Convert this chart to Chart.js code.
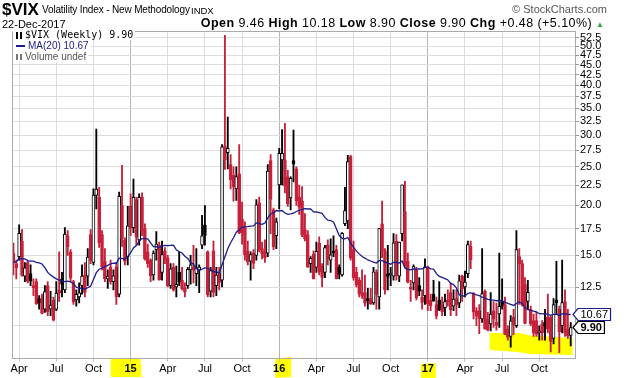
<!DOCTYPE html>
<html>
<head>
<meta charset="utf-8">
<script src="https://cdn.jsdelivr.net/npm/chart.js@4"></script>
<style>
body { margin: 0; background: #fff; }
#wrap { position: relative; width: 625px; height: 378px; font-family: 'Liberation Sans', Arial, sans-serif; color: #000; }
#wrap canvas { position: absolute; left: 0; top: 0; }
.t { position: absolute; white-space: nowrap; line-height: 1; }
.lg { position: absolute; left: 13px; height: 11px; line-height: 11px; font-size: 10px; background: #fff; padding: 0 2px 0 2px; white-space: nowrap; }
.ic { display: inline-block; vertical-align: middle; margin-right: 3px; }
.ic-c { width: 2px; height: 7px; border-left: 2px solid #000; border-right: 2px solid #000; margin-left: 1px; }
.ic-ma { width: 9px; height: 2px; background: #1c1c8c; margin-left: 1px; }
.ic-v { width: 2px; height: 6px; border-left: 2px solid #777; border-right: 2px solid #777; margin-left: 1px; }
.up { color: #3a3; font-size: 8px; letter-spacing: 0; }
</style>
</head>
<body>
<div id="wrap">
  <canvas id="vixChart" width="625" height="378"></canvas>
  <div class="t" style="left:2px;top:1px;font-size:17px;font-weight:bold;">$VIX</div>
  <div class="t" style="left:42px;top:5px;font-size:10px;letter-spacing:-0.15px;">Volatility Index - New Methodology</div>
  <div class="t" style="left:191px;top:6px;font-size:9.5px;">INDX</div>
  <div class="t" style="right:18px;top:4px;font-size:11px;color:#555;">&copy; StockCharts.com</div>
  <div class="t" style="left:2px;top:19px;font-size:11px;">22-Dec-2017</div>
  <div class="t" id="ohlc" style="right:21px;top:17px;font-size:12.5px;letter-spacing:0.45px;"></div>
  <div class="lg" style="top:29px;font-family:'DejaVu Sans Mono',monospace;"><span class="ic ic-c"></span><span id="lgPrice"></span></div>
  <div class="lg" style="top:40px;color:#1c1c8c;"><span class="ic ic-ma"></span><span id="lgMa"></span></div>
  <div class="lg" style="top:50.5px;color:#555;"><span class="ic ic-v"></span>Volume undef</div>
</div>
<script>
// semaines (lundi) a partir du 24 mars 2014
const firstWeek = [2014, 2, 24];

const opens = [
  15.2, 14.3, 14.9, 16.3, 13.3, 14.4, 13.5, 12.6, 12.9, 11.7, 11.7, 11.0, 12.6, 11.0, 11.6, 11.0, 12.3, 13.1, 12.3, 16.8,
  15.3, 12.9, 11.6, 11.8, 12.6, 13.4, 13.3, 16.9, 14.4, 21.2, 21.0, 16.9, 14.5, 13.1, 14.0, 12.9, 14.0, 12.0, 20.0, 16.4,
  14.9, 19.9, 17.6, 20.7, 16.4, 21.0, 17.5, 15.3, 14.6, 13.4, 15.5, 15.9, 13.6, 15.4, 14.8, 12.6, 14.0, 12.5, 13.6, 13.0,
  12.4, 12.6, 13.8, 14.0, 13.5, 13.8, 15.9, 17.9, 15.3, 12.2, 15.4, 12.6, 13.5, 13.0, 28.2, 27.1, 25.3, 23.8, 22.0, 24.0,
  18.5, 17.6, 15.4, 14.5, 15.2, 15.0, 20.3, 15.6, 15.3, 15.2, 25.9, 19.5, 16.8, 22.5, 26.0, 26.0, 23.6, 20.9, 25.9, 24.7,
  21.0, 20.5, 17.4, 16.9, 14.3, 15.1, 14.0, 16.1, 14.1, 13.6, 15.9, 14.6, 15.3, 15.5, 14.0, 13.4, 18.0, 18.3, 26.5, 15.5,
  13.6, 13.0, 12.1, 12.1, 11.7, 11.7, 11.4, 13.6, 11.8, 18.0, 15.4, 13.4, 13.4, 13.3, 16.3, 13.3, 17.0, 19.3, 14.5, 12.5,
  12.8, 13.8, 12.6, 11.8, 11.9, 14.0, 11.6, 12.0, 11.3, 11.6, 11.3, 11.1, 11.6, 12.1, 11.2, 11.7, 11.4, 13.3, 12.5, 13.5,
  15.8, 12.0, 10.9, 10.9, 10.4, 12.2, 10.4, 10.1, 10.9, 10.2, 10.7, 11.5, 11.3, 9.8, 9.4, 10.5, 10.0, 14.9, 14.3, 12.7,
  11.5, 11.0, 10.3, 10.3, 9.6, 10.1, 10.2, 10.5, 10.5, 9.3, 11.6, 11.0, 10.0, 11.5, 9.8, 9.46
];
const highs = [
  16.1, 14.6, 17.9, 17.4, 14.4, 14.5, 14.2, 13.1, 13.1, 11.9, 12.0, 12.6, 12.9, 12.2, 11.8, 12.9, 15.3, 13.6, 17.6, 17.3,
  15.5, 13.0, 12.3, 12.8, 14.2, 14.4, 15.6, 17.4, 22.0, 31.06, 22.2, 17.3, 15.6, 13.8, 14.6, 13.8, 14.4, 21.6, 25.2, 16.6,
  19.9, 21.4, 23.3, 21.0, 21.4, 21.5, 18.0, 16.0, 14.7, 15.4, 17.2, 16.2, 16.3, 15.7, 15.0, 14.3, 14.3, 14.1, 15.3, 14.0,
  12.8, 14.0, 15.0, 15.9, 15.6, 14.2, 18.9, 20.0, 15.4, 14.0, 16.3, 14.0, 14.0, 28.4, 53.29, 33.3, 26.8, 25.0, 25.0, 28.4,
  20.4, 18.2, 16.3, 15.3, 15.5, 20.7, 21.0, 16.2, 16.4, 25.3, 26.8, 19.7, 18.6, 27.8, 30.95, 32.09, 24.5, 23.6, 30.9, 25.0,
  22.5, 22.3, 19.1, 17.3, 14.9, 15.4, 16.2, 16.7, 14.3, 15.9, 16.4, 16.5, 16.8, 15.9, 14.2, 17.1, 22.2, 26.7, 26.7, 16.3,
  14.0, 13.2, 13.8, 13.4, 12.4, 12.4, 14.0, 13.8, 17.5, 20.5, 15.6, 15.9, 14.0, 17.0, 16.9, 16.2, 22.5, 23.0, 15.2, 13.0,
  14.2, 14.0, 13.2, 12.3, 14.7, 14.1, 12.0, 13.0, 11.8, 12.9, 11.8, 12.0, 12.3, 12.8, 12.3, 12.3, 13.4, 13.4, 13.7, 16.3,
  16.3, 12.1, 11.1, 11.3, 15.6, 12.3, 10.8, 12.1, 11.5, 11.4, 15.2, 13.1, 11.8, 10.0, 10.6, 11.0, 17.3, 15.6, 14.6, 13.2,
  13.0, 11.2, 10.7, 10.8, 10.0, 10.3, 11.0, 12.0, 10.6, 11.7, 14.5, 11.2, 14.6, 12.3, 11.0, 10.18
];
const lows = [
  13.4, 13.1, 14.6, 13.3, 12.9, 12.8, 12.6, 11.9, 11.3, 11.0, 10.7, 10.8, 10.6, 10.6, 10.28, 10.9, 11.5, 11.8, 12.1, 15.0,
  12.9, 11.3, 11.2, 11.4, 12.0, 11.8, 12.6, 14.3, 14.2, 19.6, 15.7, 13.8, 12.9, 12.4, 12.7, 12.3, 11.3, 11.8, 15.8, 14.2,
  14.2, 16.8, 17.1, 15.9, 15.9, 16.8, 14.6, 14.0, 12.9, 13.0, 14.6, 13.0, 13.0, 14.3, 12.5, 12.4, 12.2, 11.8, 12.6, 12.3,
  11.8, 12.4, 12.7, 12.8, 12.6, 12.1, 15.6, 15.9, 11.8, 11.8, 11.8, 11.9, 12.3, 12.5, 24.6, 24.7, 22.0, 20.5, 20.6, 17.0,
  16.0, 14.6, 14.2, 13.0, 13.9, 14.6, 15.3, 14.7, 14.4, 14.9, 17.0, 15.5, 15.6, 19.6, 22.5, 21.5, 19.9, 19.5, 22.9, 20.0,
  19.0, 16.7, 16.3, 14.0, 13.6, 13.1, 13.6, 13.4, 12.5, 13.2, 14.2, 13.6, 14.9, 13.1, 13.1, 13.3, 17.8, 17.5, 14.6, 13.0,
  12.5, 11.8, 11.7, 11.2, 11.0, 11.3, 11.3, 11.0, 11.0, 14.8, 12.0, 12.3, 12.6, 13.0, 13.0, 12.9, 16.3, 14.0, 12.8, 11.5,
  12.3, 11.6, 11.9, 11.0, 11.3, 10.9, 10.9, 11.5, 10.4, 10.9, 10.6, 10.6, 11.2, 10.6, 10.9, 10.6, 11.1, 11.5, 11.8, 13.2,
  13.9, 10.4, 10.0, 9.56, 10.2, 9.8, 9.7, 9.7, 9.9, 9.75, 9.9, 11.0, 9.5, 9.2, 8.84, 9.5, 9.9, 11.3, 11.2, 10.1,
  11.0, 10.0, 9.4, 9.4, 9.2, 9.2, 9.2, 9.6, 8.6, 9.0, 10.7, 8.56, 9.6, 9.4, 9.3, 8.90
];
const closes = [
  14.41, 13.96, 17.03, 13.36, 13.97, 12.91, 12.92, 12.44, 11.36, 11.40, 10.73, 12.18, 10.85, 11.26, 10.32, 12.08, 12.06, 12.69, 16.95, 15.77,
  13.15, 11.47, 11.98, 12.09, 13.31, 12.11, 14.85, 14.55, 21.24, 21.99, 16.11, 14.03, 13.12, 13.31, 12.90, 13.33, 11.82, 21.08, 16.49, 14.50,
  17.79, 17.55, 20.95, 16.66, 20.97, 17.29, 14.69, 14.30, 13.34, 15.20, 16.00, 13.02, 15.07, 14.67, 12.58, 13.89, 12.29, 12.70, 12.86, 12.38,
  12.13, 13.84, 14.21, 13.78, 13.96, 14.02, 16.79, 16.83, 11.95, 13.74, 12.12, 13.39, 12.83, 28.03, 26.05, 27.80, 23.20, 22.28, 23.62, 17.08,
  17.05, 15.05, 14.45, 15.07, 14.33, 20.08, 15.47, 15.12, 14.81, 24.39, 20.70, 15.74, 18.21, 27.01, 27.02, 22.34, 20.20, 23.38, 25.40, 20.53,
  19.81, 16.86, 16.50, 14.02, 14.74, 13.10, 15.36, 13.62, 13.22, 15.70, 14.72, 15.04, 15.20, 13.12, 13.47, 17.03, 19.41, 25.76, 14.77, 13.20,
  12.67, 12.02, 11.87, 11.39, 11.55, 11.34, 13.65, 11.98, 17.50, 15.37, 12.29, 13.29, 13.48, 16.12, 13.34, 16.19, 22.51, 14.17, 12.85, 12.34,
  14.07, 11.75, 12.20, 11.44, 14.04, 11.32, 11.23, 11.54, 10.58, 10.97, 10.85, 11.49, 11.47, 10.96, 11.66, 11.28, 12.96, 12.37, 12.87, 15.96,
  14.63, 10.82, 10.57, 10.40, 12.04, 9.81, 9.75, 10.70, 10.38, 10.02, 11.18, 11.19, 9.51, 9.36, 10.29, 10.03, 15.51, 14.26, 11.28, 10.13,
  12.12, 10.10, 9.59, 9.51, 9.65, 9.61, 9.97, 9.80, 9.14, 11.29, 11.43, 9.67, 11.43, 9.58, 9.42, 9.90
];
// 19 cloture hebdo avant le debut (pour la MA 20)
const priorCloses = [12.19, 12.26, 13.70, 13.79, 15.76, 13.79, 12.46, 13.76, 12.14, 12.44,
  18.14, 18.41, 15.29, 13.57, 14.68, 14.00, 14.11, 17.82, 15.00];

const yTicks = [10, 12.5, 15, 17.5, 20, 22.5, 25, 27.5, 30, 32.5, 35, 37.5, 40, 42.5, 45, 47.5, 50, 52.5];
const xTickWeeks = [2, 15, 28, 41, 54, 67, 80, 93, 106, 119, 132, 145, 158, 171, 184];
const xTickLabels = ['Apr', 'Jul', 'Oct', '15', 'Apr', 'Jul', 'Oct', '16', 'Apr', 'Jul', 'Oct', '17', 'Apr', 'Jul', 'Oct'];

const upColor = '#000000';
const downColor = '#c8213b';
const maColor = '#1c1c8c';

// labels semaine (+1 case vide a droite)
const weeks = [];
for (let i = 0; i <= closes.length; i++) {
  const d = new Date(Date.UTC(firstWeek[0], firstWeek[1], firstWeek[2] + 7 * i));
  weeks.push(d.toISOString().slice(0, 10));
}

// moyenne mobile 20 semaines
const allCloses = priorCloses.concat(closes);
const ma20 = closes.map((c, i) => allCloses.slice(i, i + 20).reduce((a, b) => a + b, 0) / 20);

const candleColor = closes.map((c, i) => {
  const prev = i === 0 ? priorCloses[priorCloses.length - 1] : closes[i - 1];
  return c >= prev ? upColor : downColor;
});
const bodyFill = closes.map((c, i) => c > opens[i] ? '#ffffff' : candleColor[i]);

const yearWeeks = xTickWeeks.filter((w, k) => /^\d+$/.test(xTickLabels[k]));

// textes d'en-tete
const last = closes.length - 1;
const prevClose = closes[last - 1];
const chg = closes[last] - prevClose;
const sign = chg >= 0 ? '+' : '';
document.getElementById('ohlc').innerHTML =
  '<b>Open</b> ' + opens[last].toFixed(2) + ' <b>High</b> ' + highs[last].toFixed(2) +
  ' <b>Low</b> ' + lows[last].toFixed(2) + ' <b>Close</b> ' + closes[last].toFixed(2) +
  ' <b>Chg</b> ' + sign + chg.toFixed(2) + ' (' + sign + (chg / prevClose * 100).toFixed(2) + '%) <span class="up">&#9650;</span>';
document.getElementById('lgPrice').textContent = '$VIX (Weekly) ' + closes[last].toFixed(2);
document.getElementById('lgMa').textContent = 'MA(20) ' + ma20[last].toFixed(2);

// surlignages jaunes (dx par rapport au label, y en px)
const yearMarks = {
  '15': [[-20, 359], [10, 359], [11, 377], [-20, 377]],
  '16': [[-4, 359], [12, 357], [12, 377], [-4, 378]],
  '17': [[-7, 364], [8, 363], [8, 378], [-7, 378]]
};

function drawTag(ctx, xLeft, y, text, stroke, font) {
  ctx.font = font;
  const w = ctx.measureText(text).width + 5;
  const h = 12;
  ctx.beginPath();
  ctx.moveTo(xLeft - 3, y);
  ctx.lineTo(xLeft + 2, y - h / 2);
  ctx.lineTo(xLeft + 2 + w, y - h / 2);
  ctx.lineTo(xLeft + 2 + w, y + h / 2);
  ctx.lineTo(xLeft + 2, y + h / 2);
  ctx.closePath();
  ctx.fillStyle = '#fff';
  ctx.fill();
  ctx.strokeStyle = stroke;
  ctx.lineWidth = 1.2;
  ctx.stroke();
  ctx.fillStyle = '#000';
  ctx.textAlign = 'left';
  ctx.textBaseline = 'middle';
  ctx.fillText(text, xLeft + 4.5, y + 0.5);
}

const decorations = {
  id: 'decorations',
  beforeDraw(chart) {
    const { ctx, scales: { x } } = chart;
    ctx.save();
    ctx.fillStyle = '#ffff00';
    xTickWeeks.forEach((w, k) => {
      const shape = yearMarks[xTickLabels[k]];
      if (!shape) return;
      const cx = x.getPixelForValue(w);
      ctx.beginPath();
      shape.forEach((p, j) => j ? ctx.lineTo(cx + p[0], p[1]) : ctx.moveTo(cx + p[0], p[1]));
      ctx.closePath();
      ctx.fill();
    });
    ctx.restore();
  },
  beforeDatasetsDraw(chart) {
    const { ctx, scales: { x } } = chart;
    const x0 = x.getPixelForValue(167) - 1;
    const x1 = x.getPixelForValue(196) - 1;
    ctx.save();
    ctx.fillStyle = '#ffff00';
    ctx.beginPath();
    ctx.moveTo(x0, 333);
    ctx.lineTo(x0 + 30, 333);
    ctx.lineTo(x0 + 40, 335.5);
    ctx.lineTo(x1, 338);
    ctx.lineTo(x1, 355);
    ctx.lineTo(x0 + 40, 354);
    ctx.lineTo(x0 + 28, 352);
    ctx.lineTo(x0, 350);
    ctx.closePath();
    ctx.fill();
    ctx.restore();
  },
  afterDraw(chart) {
    const { ctx, chartArea: a, scales: { y } } = chart;
    ctx.save();
    ctx.strokeStyle = '#aaaaaa';
    ctx.lineWidth = 1;
    ctx.beginPath();
    ctx.moveTo(a.left + 0.5, a.bottom);
    ctx.lineTo(a.left + 0.5, a.top + 0.5);
    ctx.lineTo(a.right, a.top + 0.5);
    ctx.stroke();
    drawTag(ctx, a.right + 1, y.getPixelForValue(ma20[last]), ma20[last].toFixed(2), maColor, '11px "Liberation Sans"');
    drawTag(ctx, a.right + 1, y.getPixelForValue(closes[last]), closes[last].toFixed(2), '#000', 'bold 11px "Liberation Sans"');
    ctx.restore();
  }
};

const ctx = document.getElementById('vixChart').getContext('2d');
const vixChart = new Chart(ctx, {
  type: 'bar',
  data: {
    labels: weeks,
    datasets: [
      {
        type: 'line',
        label: 'MA(20)',
        data: ma20,
        borderColor: maColor,
        borderWidth: 1.3,
        pointRadius: 0,
        tension: 0,
        order: 0
      },
      {
        label: 'body',
        data: opens.map((o, i) => [Math.min(o, closes[i]), Math.max(o, closes[i])]),
        backgroundColor: bodyFill,
        borderColor: candleColor,
        borderWidth: 1,
        borderSkipped: false,
        barThickness: 3,
        minBarLength: 2,
        grouped: false,
        order: 1
      },
      {
        label: 'wick',
        data: lows.map((l, i) => [l, highs[i]]),
        backgroundColor: candleColor,
        barThickness: 1.2,
        grouped: false,
        order: 2
      }
    ]
  },
  options: {
    responsive: false,
    animation: false,
    layout: { padding: { left: 12, top: 31, right: 0, bottom: 0 } },
    plugins: { legend: { display: false }, tooltip: { enabled: false } },
    scales: {
      x: {
        offset: true,
        afterFit: (axis) => { axis.height = 19.5; },
        grid: {
          offset: false,
          color: (c) => xTickWeeks.includes(c.index) ? (yearWeeks.includes(c.index) ? '#b4b4b4' : '#dddddd') : 'rgba(0,0,0,0)',
          tickColor: (c) => xTickWeeks.includes(c.index) ? '#bbbbbb' : 'rgba(0,0,0,0)',
          tickLength: 3
        },
        border: { color: '#aaaaaa' },
        ticks: {
          autoSkip: false,
          maxRotation: 0,
          padding: 1,
          color: '#000',
          font: (c) => ({ family: 'Liberation Sans', size: 11, weight: yearWeeks.includes(c.index) ? 'bold' : 'normal' }),
          callback: (v, i) => {
            const k = xTickWeeks.indexOf(i);
            return k < 0 ? '' : xTickLabels[k];
          }
        }
      },
      y: {
        type: 'logarithmic',
        position: 'right',
        min: 8.28,
        max: 54.66,
        afterBuildTicks: (axis) => { axis.ticks = yTicks.map(v => ({ value: v })); },
        afterFit: (axis) => { axis.width = 50; },
        grid: { color: '#dddddd', tickLength: 4, tickColor: '#999999' },
        border: { color: '#aaaaaa' },
        ticks: {
          padding: 1,
          color: '#000',
          font: { family: 'Liberation Sans', size: 11 },
          callback: (v) => v === 10 ? '' : Number(v).toFixed(1)
        }
      }
    }
  },
  plugins: [decorations]
});
</script>
</body>
</html>
